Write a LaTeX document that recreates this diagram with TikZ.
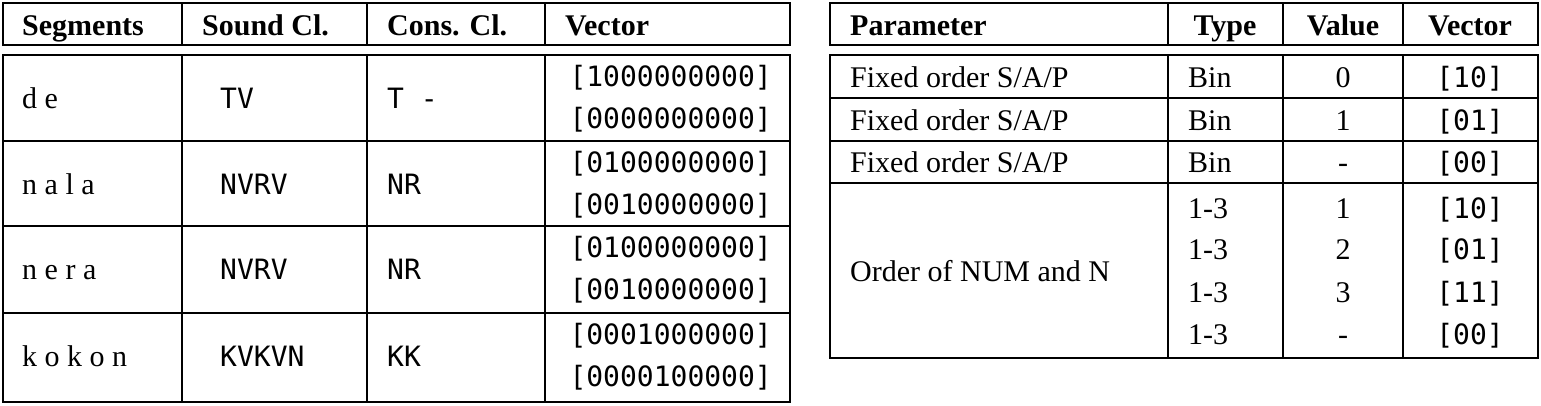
\documentclass[tikz,border=0pt]{standalone}
\usepackage{fontspec}
\setmainfont{Liberation Serif}
\setmonofont{DejaVu Sans Mono}
\begin{document}
\begin{tikzpicture}[x=1pt,y=-1pt,
  ln/.style={line width=1.2pt},
  hd/.style={font=\fontsize{30}{30}\selectfont\bfseries,inner sep=0pt,anchor=base west},
  rm/.style={font=\fontsize{30}{30}\selectfont,inner sep=0pt,anchor=base west},
  tt/.style={font=\fontsize{28}{28}\selectfont\ttfamily,inner sep=0pt,anchor=base west}]
\useasboundingbox (0,0) rectangle (1541,405);
% left table
\draw[ln] (3,3) rectangle (790,45);
\draw[ln] (3,55) rectangle (790,402);
\foreach \x in {182,367,545}{\draw[ln] (\x,3)--(\x,45); \draw[ln] (\x,55)--(\x,402);}
\foreach \y in {141,226,313}{\draw[ln] (3,\y)--(790,\y);}
\node[hd] (h1) at (22,35) {Segments};
\node[hd] (h2) at (202,35) {Sound Cl.};
\node[hd] (h3) at (387,35) {Cons. Cl.};
\node[hd] (h4) at (565,35) {Vector};
\foreach \s/\a/\b/\c/\d/\yy [count=\i] in {d e/TV/T -/1000000000/0000000000/55, n a l a/NVRV/NR/0100000000/0010000000/141, n e r a/NVRV/NR/0100000000/0010000000/226, k o k o n/KVKVN/KK/0001000000/0000100000/313}{
  \node[rm] (s\i) at (22,\yy+53) {\s};
  \node[tt] (c\i) at (220,\yy+53) {\a};
  \node[tt] (k\i) at (387,\yy+53) {\b};
  \node[tt,anchor=base east] (v\i a) at (772,\yy+31) {[\c]};
  \node[tt,anchor=base east] (v\i b) at (772,\yy+73) {[\d]};
}
% right table
\draw[ln] (830,3) rectangle (1538,45);
\draw[ln] (830,55) rectangle (1538,358);
\foreach \x in {1168,1283,1403}{\draw[ln] (\x,3)--(\x,45); \draw[ln] (\x,55)--(\x,358);}
\foreach \y in {98,141,183}{\draw[ln] (830,\y)--(1538,\y);}
\node[hd] (p1) at (850,35) {Parameter};
\node[hd,anchor=base] (p2) at (1225,35) {Type};
\node[hd,anchor=base] (p3) at (1343,35) {Value};
\node[hd,anchor=base] (p4) at (1470,35) {Vector};
\foreach \v/\w/\yy [count=\i] in {0/10/87,1/01/130,-/00/172}{
  \node[rm] (f\i) at (850,\yy) {Fixed order S/A/P};
  \node[rm] (t\i) at (1188,\yy) {Bin};
  \node[rm,anchor=base] (u\i) at (1343,\yy) {\v};
  \node[tt,anchor=base] (w\i) at (1470,\yy) {[\w]};
}
\node[rm] (o) at (850,281) {Order of NUM and N};
\foreach \v/\w/\yy [count=\i] in {1/10/218,2/01/259,3/11/302,-/00/344}{
  \node[rm] (r\i) at (1188,\yy) {1-3};
  \node[rm,anchor=base] (q\i) at (1343,\yy) {\v};
  \node[tt,anchor=base] (z\i) at (1470,\yy) {[\w]};
}
\end{tikzpicture}
\end{document}
